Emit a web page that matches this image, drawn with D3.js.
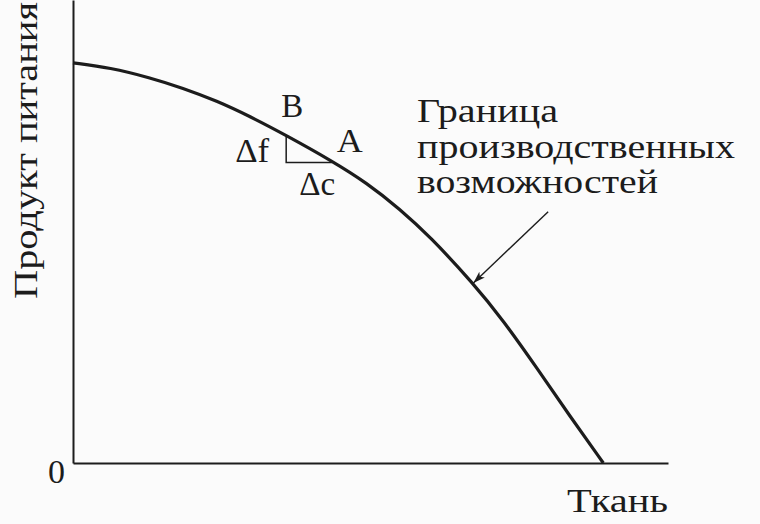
<!DOCTYPE html>
<html>
<head>
<meta charset="utf-8">
<script src="https://cdn.jsdelivr.net/npm/d3@7"></script>
<style>
    body { margin: 0; background: #fbfbfb; }
    #chart { width: 760px; height: 524px; }
    text { fill: #1c1c1c; }
</style>
</head>
<body>
<div id="chart"></div>
<script>
// production possibilities frontier (arbitrary units)
var cloth = [0, 7.0, 14.5, 20.7, 27.1, 33.4, 40.3, 48.8, 55.4, 61.7, 67.3, 75.4, 81.1, 87.5, 93.7, 100];
var food = [100, 98.8, 96.3, 93.7, 90.5, 86.6, 81.8, 75.5, 70.0, 63.4, 56.6, 45.0, 35.7, 23.7, 11.7, 0];

// axis extents
var xEnd = 112.2;
var yEnd = 115.7;

// points B and A with the small triangle between them
var pointNames = ['B', 'A'];
var pointCloth = [40.2, 48.8];
var pointFood = [81.9, 75.1];

// arrow to the curve: start, tip
var arrowCloth = [89.6, 75.5];
var arrowFood = [62.8, 45.0];

var curveLabel = ['Граница', 'производственных', 'возможностей'];
var xLabel = 'Ткань';
var yLabel = 'Продукт питания';

var width = document.getElementById('chart').clientWidth;
var height = document.getElementById('chart').clientHeight;

var margin = {
    top: 0,
    bottom: 61,
    left: 73,
    right: 92
}

var svg = d3.select('#chart')
    .append('svg')
    .attr('width', width)
    .attr('height', height)
    .attr('font-family', "'Liberation Serif', 'Times New Roman', Tinos, 'Noto Serif', 'DejaVu Serif', FreeSerif, Times, serif");

var defs = svg.append('defs');
defs.append('marker')
    .attr('id', 'head')
    .attr('viewBox', '0 0 12 8')
    .attr('refX', 12)
    .attr('refY', 4)
    .attr('markerWidth', 12)
    .attr('markerHeight', 8)
    .attr('markerUnits', 'userSpaceOnUse')
    .attr('orient', 'auto')
    .append('path')
    .attr('d', 'M0,0L12,4L0,8L3,4Z')
    .attr('fill', '#1c1c1c');

var x_scale = d3.scaleLinear()
    .domain([0, xEnd])
    .range([margin.left, width - margin.right]);

var y_scale = d3.scaleLinear()
    .domain([0, yEnd])
    .range([height - margin.bottom, margin.top]);

var x_axis = d3.axisBottom(x_scale).tickValues([]).tickSizeOuter(0);
var y_axis = d3.axisLeft(y_scale).tickValues([]).tickSizeOuter(0);

svg.append('g')
    .attr('class', 'x axis')
    .attr('transform', 'translate(0,' + y_scale(0) + ')')
    .call(x_axis);

svg.append('g')
    .attr('class', 'y axis')
    .attr('transform', 'translate(' + x_scale(0) + ',0)')
    .call(y_axis);

svg.selectAll('.axis path')
    .attr('stroke', '#1c1c1c')
    .attr('stroke-width', 2);

// origin label
svg.append('text')
    .attr('x', x_scale(0) - 8)
    .attr('y', y_scale(0) + 20)
    .attr('text-anchor', 'end')
    .attr('font-size', 34)
    .text('0');

svg.append('text')
    .attr('x', x_scale(xEnd) - 101)
    .attr('y', y_scale(0) + 49)
    .attr('font-size', 34)
    .attr('textLength', 101)
    .attr('lengthAdjust', 'spacingAndGlyphs')
    .text(xLabel);

svg.append('text')
    .attr('transform', 'translate(' + (x_scale(0) - 36) + ',' + (y_scale(0) - 164) + ') rotate(-90)')
    .attr('font-size', 34)
    .attr('textLength', 297)
    .attr('lengthAdjust', 'spacingAndGlyphs')
    .text(yLabel);

// the frontier
var frontier = d3.line()
    .x(function (d, i) { return x_scale(cloth[i]); })
    .y(function (d, i) { return y_scale(food[i]); })
    .curve(d3.curveBasis);

svg.append('path')
    .datum(cloth)
    .attr('d', frontier)
    .attr('fill', 'none')
    .attr('stroke', '#1c1c1c')
    .attr('stroke-width', 3.2);

// triangle B -> corner -> A
var legs = [
    [pointCloth[0], pointFood[0]],
    [pointCloth[0], pointFood[1]],
    [pointCloth[1], pointFood[1]]
];
svg.append('path')
    .attr('d', d3.line()
        .x(function (d) { return x_scale(d[0]); })
        .y(function (d) { return y_scale(d[1]); })(legs))
    .attr('fill', 'none')
    .attr('stroke', '#1c1c1c')
    .attr('stroke-width', 1.5);

svg.append('text')
    .attr('x', x_scale(pointCloth[0]) - 5)
    .attr('y', y_scale(pointFood[0]) - 18)
    .attr('font-size', 33)
    .attr('textLength', 22)
    .attr('lengthAdjust', 'spacingAndGlyphs')
    .text(pointNames[0]);

svg.append('text')
    .attr('x', x_scale(pointCloth[1]) + 5)
    .attr('y', y_scale(pointFood[1]) - 10)
    .attr('font-size', 33)
    .attr('textLength', 26)
    .attr('lengthAdjust', 'spacingAndGlyphs')
    .text(pointNames[1]);

svg.append('text')
    .attr('x', x_scale(pointCloth[0]) - 51)
    .attr('y', y_scale(pointFood[1]))
    .attr('font-size', 33)
    .attr('textLength', 34)
    .attr('lengthAdjust', 'spacingAndGlyphs')
    .text('\u0394f');

svg.append('text')
    .attr('x', x_scale(pointCloth[0]) + 13)
    .attr('y', y_scale(pointFood[1]) + 33)
    .attr('font-size', 33)
    .attr('textLength', 36)
    .attr('lengthAdjust', 'spacingAndGlyphs')
    .text('\u0394c');

// curve name and pointer
var labelWidths = [141, 318, 241];
var label = svg.append('text')
    .attr('font-size', 34);
label.selectAll('tspan')
    .data(curveLabel)
    .enter()
    .append('tspan')
    .attr('x', 417)
    .attr('y', function (d, i) { return 121.7 + i * 35.8; })
    .attr('textLength', function (d, i) { return labelWidths[i]; })
    .attr('lengthAdjust', 'spacingAndGlyphs')
    .text(function (d) { return d; });

svg.append('line')
    .attr('x1', x_scale(arrowCloth[0]))
    .attr('y1', y_scale(arrowFood[0]))
    .attr('x2', x_scale(arrowCloth[1]))
    .attr('y2', y_scale(arrowFood[1]))
    .attr('stroke', '#1c1c1c')
    .attr('stroke-width', 1.4)
    .attr('marker-end', 'url(#head)');
</script>
</body>
</html>
